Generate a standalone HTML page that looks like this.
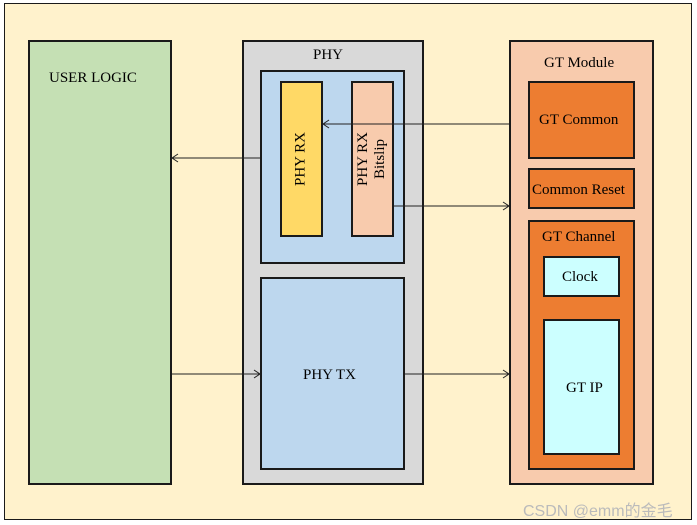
<!DOCTYPE html>
<html><head><style>
body{margin:0;width:697px;height:525px;background:#fff;position:relative;overflow:hidden;font-family:"Liberation Serif","Noto Serif CJK SC",serif;}
.b{position:absolute;box-sizing:border-box;border:2px solid #1a1a1a;}
.t{position:absolute;font-size:15px;color:#000;white-space:nowrap;}
</style></head><body>
<div class="b" style="left:4px;top:3px;width:688px;height:517px;background:#FFF2CC;border-width:1.5px"></div>
<div class="b" style="left:28px;top:40px;width:144px;height:445px;background:#C5E0B4"></div>
<div class="t" style="left:49px;top:70px">USER LOGIC</div>
<div class="b" style="left:242px;top:40px;width:182px;height:445px;background:#D9D9D9"></div>
<div class="t" style="left:313px;top:47px">PHY</div>
<div class="b" style="left:260px;top:70px;width:145px;height:194px;background:#BDD7EE"></div>
<div class="b" style="left:280px;top:81px;width:43px;height:156px;background:#FFD966"></div>
<div class="b" style="left:351px;top:81px;width:43px;height:156px;background:#F8CBAD"></div>
<div class="t" style="left:301px;top:159px;transform:translate(-50%,-50%) rotate(-90deg)">PHY RX</div>
<div class="t" style="left:372px;top:159px;transform:translate(-50%,-50%) rotate(-90deg);text-align:center;line-height:17px">PHY RX<br>Bitslip</div>
<div class="b" style="left:260px;top:277px;width:145px;height:193px;background:#BDD7EE"></div>
<div class="t" style="left:303px;top:367px">PHY TX</div>
<div class="b" style="left:509px;top:40px;width:145px;height:445px;background:#F8CBAD"></div>
<div class="t" style="left:544px;top:55px">GT Module</div>
<div class="b" style="left:528px;top:81px;width:107px;height:78px;background:#ED7D31"></div>
<div class="t" style="left:539px;top:112px">GT Common</div>
<div class="b" style="left:528px;top:168px;width:107px;height:41px;background:#ED7D31"></div>
<div class="t" style="left:532px;top:182px">Common Reset</div>
<div class="b" style="left:528px;top:220px;width:107px;height:250px;background:#ED7D31"></div>
<div class="t" style="left:542px;top:229px">GT Channel</div>
<div class="b" style="left:543px;top:256px;width:77px;height:41px;background:#CCFFFF"></div>
<div class="t" style="left:562px;top:269px">Clock</div>
<div class="b" style="left:543px;top:319px;width:77px;height:136px;background:#CCFFFF"></div>
<div class="t" style="left:566px;top:380px">GT IP</div>
<svg style="position:absolute;left:0;top:0" width="697" height="525">
<g stroke="#222" stroke-width="1" fill="none">
<line x1="509" y1="124" x2="323" y2="124"/><polyline points="329,120 323,124 329,128"/>
<line x1="260" y1="158" x2="172" y2="158"/><polyline points="178,154 172,158 178,162"/>
<line x1="394" y1="206" x2="509" y2="206"/><polyline points="503,202 509,206 503,210"/>
<line x1="172" y1="374" x2="260" y2="374"/><polyline points="254,370 260,374 254,378"/>
<line x1="405" y1="374" x2="509" y2="374"/><polyline points="503,370 509,374 503,378"/>
</g></svg>
<div class="t" style="left:523px;top:497px;font-family:'Liberation Sans','Noto Sans CJK SC',sans-serif;color:#bbb;font-size:16px">CSDN @emm的金毛</div>
</body></html>
